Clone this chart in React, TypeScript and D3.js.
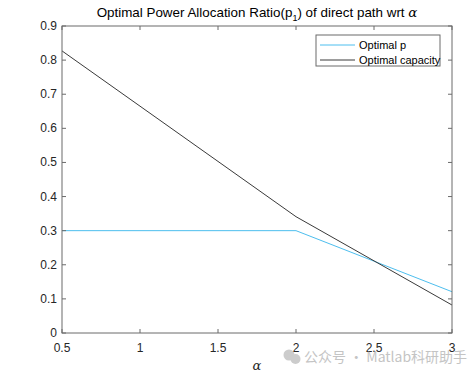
import React from "react";
import * as d3 from "d3";

const alphaP = [0.5, 2, 3];
const optimalP = [0.3, 0.3, 0.121];
const alphaC = [0.5, 2, 3];
const optimalCap = [0.827, 0.341, 0.082];
const xTicks = [0.5, 1, 1.5, 2, 2.5, 3];
const yTicks = [0, 0.1, 0.2, 0.3, 0.4, 0.5, 0.6, 0.7, 0.8, 0.9];
const legendLabels = ["Optimal p", "Optimal capacity"];

const W = 474, H = 376;
const L = 62, R = 452, T = 26, B = 333;
const font = "'Liberation Sans', Arial, Helvetica, sans-serif";
const axisColor = "#6b6b6b";
const textColor = "#262626";
const blue = "#4DBEEE";
const black = "#3a3a3a";

export default function App() {
  const x = d3.scaleLinear().domain([0.5, 3]).range([L, R]);
  const y = d3.scaleLinear().domain([0, 0.9]).range([B, T]);
  const line = d3.line<[number, number]>().x(d => x(d[0])).y(d => y(d[1]));
  const pData = alphaP.map((a, i) => [a, optimalP[i]] as [number, number]);
  const cData = alphaC.map((a, i) => [a, optimalCap[i]] as [number, number]);
  const tl = 4;
  const colors = [blue, black];
  return (
    <svg width={W} height={H} style={{ position: "absolute", left: 0, top: 0, background: "#fff" }}>
      <rect x={0} y={0} width={W} height={H} fill="#fff" />
      <path d={line(pData) || ""} fill="none" stroke={blue} strokeWidth={1} />
      <path d={line(cData) || ""} fill="none" stroke={black} strokeWidth={1} />
      <rect x={L} y={T} width={R - L} height={B - T} fill="none" stroke={axisColor} strokeWidth={1} />
      {xTicks.map(t => (
        <g key={"x" + t}>
          <line x1={x(t)} x2={x(t)} y1={B} y2={B - tl} stroke={axisColor} />
          <line x1={x(t)} x2={x(t)} y1={T} y2={T + tl} stroke={axisColor} />
          <text x={x(t)} y={352} textAnchor="middle" fontFamily={font} fontSize={12} fill={textColor}>{t}</text>
        </g>
      ))}
      {yTicks.map(t => (
        <g key={"y" + t}>
          <line x1={L} x2={L + tl} y1={y(t)} y2={y(t)} stroke={axisColor} />
          <line x1={R} x2={R - tl} y1={y(t)} y2={y(t)} stroke={axisColor} />
          <text x={57} y={y(t) + 4} textAnchor="end" fontFamily={font} fontSize={12} fill={textColor}>{t}</text>
        </g>
      ))}
      <text x={(L + R) / 2} y={17} textAnchor="middle" fontFamily={font} fontSize={13.4} fill="#000">
        Optimal Power Allocation Ratio(p<tspan fontSize={9} dy={4}>1</tspan><tspan dy={-4}>) of direct path wrt </tspan>
        <tspan fontFamily="'DejaVu Serif', serif" fontStyle="italic">α</tspan>
      </text>
      <text x={(L + R) / 2} y={370} textAnchor="middle" fontFamily="'DejaVu Serif', serif" fontStyle="italic" fontSize={13} fill={textColor}>α</text>
      <rect x={316} y={35} width={124} height={31} fill="#fff" stroke={axisColor} strokeWidth={1} />
      {legendLabels.map((lab, i) => (
        <g key={lab}>
          <line x1={320} x2={355} y1={45 + i * 15} y2={45 + i * 15} stroke={colors[i]} />
          <text x={359} y={49 + i * 15} fontFamily={font} fontSize={11} fill="#000">{lab}</text>
        </g>
      ))}
      <g opacity={0.5}>
        <circle cx={289} cy={355} r={5.5} fill="#9a9a9a" />
        <circle cx={295.5} cy={359} r={5} fill="#9a9a9a" />
        <text x={304} y={362} fontFamily="'Noto Sans CJK SC', sans-serif" fontSize={14} fill="#8a8a8a">公众号 · Matlab科研助手</text>
      </g>
    </svg>
  );
}
